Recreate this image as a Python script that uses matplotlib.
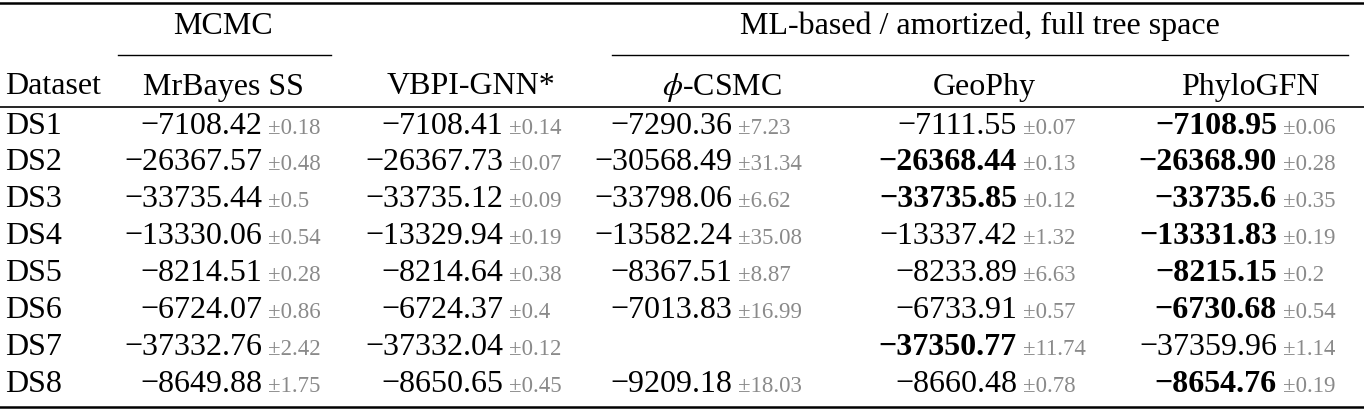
import matplotlib
matplotlib.use("Agg")
import matplotlib.pyplot as plt
from matplotlib.lines import Line2D

datasets = ["DS1", "DS2", "DS3", "DS4", "DS5", "DS6", "DS7", "DS8"]
methods = ["MrBayes SS", "VBPI-GNN*", r"$\phi$-CSMC", "GeoPhy", "PhyloGFN"]
means = [
    ["−7108.42", "−26367.57", "−33735.44", "−13330.06", "−8214.51", "−6724.07", "−37332.76", "−8649.88"],
    ["−7108.41", "−26367.73", "−33735.12", "−13329.94", "−8214.64", "−6724.37", "−37332.04", "−8650.65"],
    ["−7290.36", "−30568.49", "−33798.06", "−13582.24", "−8367.51", "−7013.83", "", "−9209.18"],
    ["−7111.55", "−26368.44", "−33735.85", "−13337.42", "−8233.89", "−6733.91", "−37350.77", "−8660.48"],
    ["−7108.95", "−26368.90", "−33735.6", "−13331.83", "−8215.15", "−6730.68", "−37359.96", "−8654.76"],
]
stds = [
    ["0.18", "0.48", "0.5", "0.54", "0.28", "0.86", "2.42", "1.75"],
    ["0.14", "0.07", "0.09", "0.19", "0.38", "0.4", "0.12", "0.45"],
    ["7.23", "31.34", "6.62", "35.08", "8.87", "16.99", "", "18.03"],
    ["0.07", "0.13", "0.12", "1.32", "6.63", "0.57", "11.74", "0.78"],
    ["0.06", "0.28", "0.35", "0.19", "0.2", "0.54", "1.14", "0.19"],
]
bold = [
    [0]*8,
    [0]*8,
    [0]*8,
    [0, 1, 1, 0, 0, 0, 1, 0],
    [1, 1, 1, 1, 1, 1, 0, 1],
]
groups = ["MCMC", "ML-based / amortized, full tree space"]

W, H = 1364, 412
fig = plt.figure(figsize=(W/100, H/100), dpi=100)
plt.rcParams['font.family'] = ['Liberation Serif', 'DejaVu Serif']
plt.rcParams['mathtext.fontset'] = 'stix'

def T(x, y, s, **kw):
    fig.text(x/W, 1 - y/H, s, va='center', **kw)

def L(x0, x1, y, lw):
    fig.add_artist(Line2D([x0/W, x1/W], [1 - y/H, 1 - y/H], color='black', lw=lw))

FS = 23
SFS = 16.5
num_end = [262, 503, 732, 1017, 1277]
hdr_c = [223, 471, 722, 984, 1250]

L(0, W, 3, 1.8)
L(118, 331, 55, 1.0)
L(612, 1348, 55, 1.0)
L(0, W, 107, 1.2)
L(0, W, 407, 1.8)

T(223, 26, groups[0], ha='center', fontsize=FS)
T(980, 26, groups[1], ha='center', fontsize=FS)
T(5, 87, "Dataset", ha='left', fontsize=FS)
for c, m in zip(hdr_c, methods):
    T(c, 87, m, ha='center', fontsize=FS)

y0, dy = 126, 36.9
for i, ds in enumerate(datasets):
    y = y0 + i*dy
    T(5, y, ds, ha='left', fontsize=FS)
    for j in range(5):
        if means[j][i]:
            T(num_end[j], y, means[j][i], ha='right', fontsize=FS,
              fontweight='bold' if bold[j][i] else 'normal')
            T(num_end[j] + 6, y + 2, "±" + stds[j][i], ha='left', fontsize=SFS, color='#8a8a8a')

fig.savefig("out.png", dpi=100)
